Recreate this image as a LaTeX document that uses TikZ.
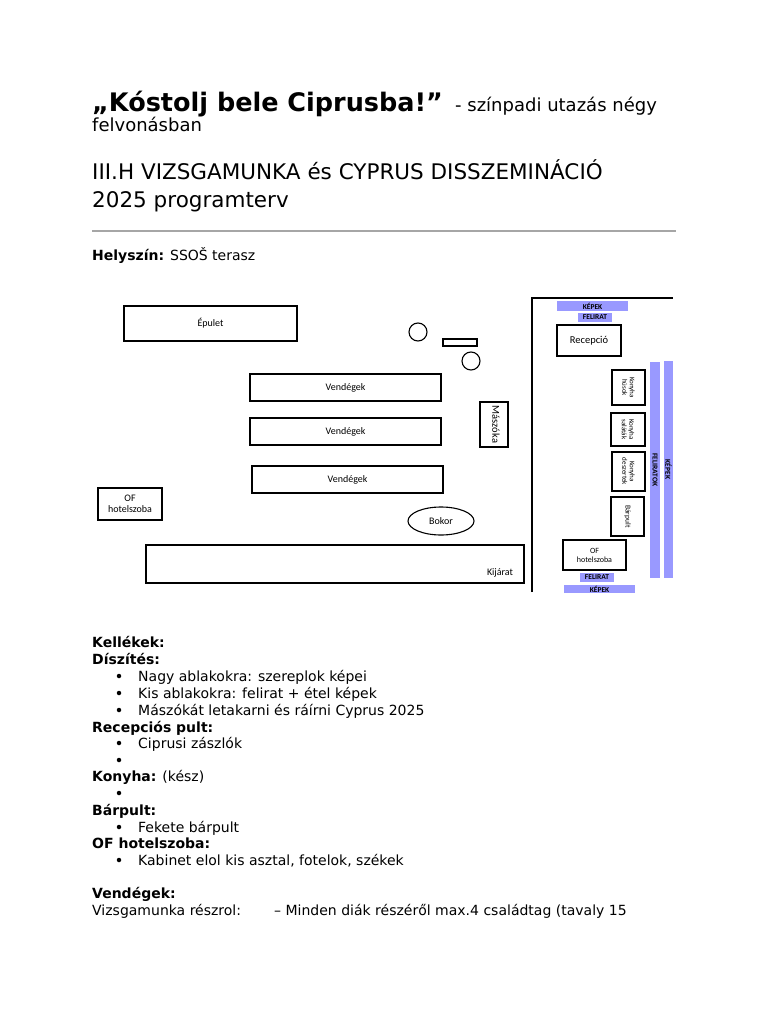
\documentclass[tikz,border=0pt]{standalone}
\usepackage{fontspec}
\usetikzlibrary{shapes.geometric}
\setmainfont{DejaVu Sans}
\newfontfamily\plan{Carlito}
\begin{document}
\begin{tikzpicture}[x=1pt,y=-1pt,
  txt/.style={anchor=base west,inner sep=0pt,font=\fontsize{14}{16}\selectfont},
  big/.style={anchor=base west,inner sep=0pt,font=\fontsize{21.5}{24}\selectfont},
  box/.style={draw,line width=1.1pt,inner sep=0pt,font=\plan\fontsize{10}{11}\selectfont,align=center},
  blue/.style={fill=blue!40!white,draw=none,inner sep=0pt,font=\plan\bfseries\fontsize{7.5}{8}\selectfont},
  bul/.style={circle,fill,inner sep=0pt,minimum size=4.5pt}]
\useasboundingbox (0,0) rectangle (768,1024);
\fill[white] (0,0) rectangle (768,1024);
% title
\node[big,font=\bfseries\fontsize{25.5}{28}\selectfont] (t1) at (92,112) {„Kóstolj bele Ciprusba!”};
\node[txt,font=\fontsize{18}{20}\selectfont] (t1b) at (455,112) {- színpadi utazás négy};
\node[txt,font=\fontsize{18}{20}\selectfont] (t1c) at (92,132) {felvonásban};
\node[big] (t2) at (92,180) {III.H VIZSGAMUNKA és CYPRUS DISSZEMINÁCIÓ};
\node[big] (t3) at (92,208) {2025 programterv};
\draw[gray!70,line width=1.2pt] (92,231) -- (676,231);
\node[txt] (hely) at (92,260) {\textbf{Helyszín:} SSOŠ terasz};
% plan left
\node[box,minimum width=173pt,minimum height=35pt] (ep) at (210.5,323.5) {Épulet};
\node[draw,line width=1.1pt,circle,minimum size=18pt,inner sep=0pt] (c1) at (418,332) {};
\node[draw,line width=1.1pt,minimum width=34pt,minimum height=7pt,inner sep=0pt] (r1) at (460,342.5) {};
\node[draw,line width=1.1pt,circle,minimum size=18pt,inner sep=0pt] (c2) at (471,361) {};
\node[box,minimum width=191pt,minimum height=27pt] (v1) at (345.5,387.5) {Vendégek};
\node[box,minimum width=191pt,minimum height=27pt] (v2) at (345.5,431.5) {Vendégek};
\node[box,minimum width=191pt,minimum height=27pt] (v3) at (347.5,479.5) {Vendégek};
\node[box,minimum width=28pt,minimum height=45pt] (masz) at (494,424.5) {};
\node[font=\plan\fontsize{10.5}{11}\selectfont,rotate=-90,inner sep=0pt] (maszt) at (496,424.5) {Mászóka};
\node[box,minimum width=64pt,minimum height=32pt] (of1) at (130,504) {OF\\hotelszoba};
\node[draw,line width=1.1pt,ellipse,minimum width=66pt,minimum height=28pt,inner sep=0pt,font=\plan\fontsize{10}{11}\selectfont] (bok) at (441,521) {Bokor};
\node[box,minimum width=378pt,minimum height=38pt] (kij) at (335,564) {};
\node[font=\plan\fontsize{10}{11}\selectfont,inner sep=0pt] (kijt) at (500,573) {Kijárat};
% plan right
\draw[line width=1.1pt] (532,592) -- (532,298) -- (673,298);
\node[blue,minimum width=71pt,minimum height=10pt] (kp1) at (592.5,306) {KÉPEK};
\node[blue,minimum width=34pt,minimum height=9pt] (fe1) at (595,317.5) {FELIRAT};
\node[box,minimum width=64pt,minimum height=31pt,font=\plan\fontsize{10.5}{11}\selectfont] (rec) at (589,340.5) {Recepció};
\node[box,minimum width=33pt,minimum height=35pt] (k1) at (628.5,387.5) {};
\node[font=\plan\fontsize{7}{7.5}\selectfont,rotate=-90,align=center,inner sep=0pt] (k1t) at (628.5,387.5) {Konyha\\húsok};
\node[box,minimum width=34pt,minimum height=33pt] (k2) at (628,429.5) {};
\node[font=\plan\fontsize{7}{7.5}\selectfont,rotate=-90,align=center,inner sep=0pt] (k2t) at (628,429.5) {Konyha\\saláták};
\node[box,minimum width=33pt,minimum height=39pt] (k3) at (628.5,471.5) {};
\node[font=\plan\fontsize{7}{7.5}\selectfont,rotate=-90,align=center,inner sep=0pt] (k3t) at (628.5,471.5) {Konyha\\deszertek};
\node[box,minimum width=33pt,minimum height=39pt] (bp) at (627.5,516.5) {};
\node[font=\plan\fontsize{7.5}{8}\selectfont,rotate=-90,inner sep=0pt] (bpt) at (627.5,516.5) {Bárpult};
\node[box,minimum width=63pt,minimum height=30pt,font=\plan\fontsize{8}{9}\selectfont] (of2) at (594.5,555) {OF\\hotelszoba};
\node[blue,minimum width=34pt,minimum height=9pt] (fe2) at (597,577.5) {FELIRAT};
\node[blue,minimum width=71pt,minimum height=8pt] (kp2) at (599.5,589) {KÉPEK};
\node[blue,minimum width=10pt,minimum height=216pt] (fe3) at (655,470) {};
\node[blue,rotate=-90] (fe3t) at (655,470) {FELIRATOK};
\node[blue,minimum width=9pt,minimum height=217pt] (kp3) at (668.5,469.5) {};
\node[blue,rotate=-90] (kp3t) at (668.5,469.5) {KÉPEK};
% lists
\node[txt] (l1) at (92,647) {\textbf{Kellékek:}};
\node[txt] (l2) at (92,664) {\textbf{Díszítés:}};
\node[bul] (b1) at (119,676) {}; \node[txt] (l3) at (138,681) {Nagy ablakokra: szereplok képei};
\node[bul] (b2) at (119,693) {}; \node[txt] (l4) at (138,698) {Kis ablakokra: felirat + étel képek};
\node[bul] (b3) at (119,710) {}; \node[txt] (l5) at (138,715) {Mászókát letakarni és ráírni Cyprus 2025};
\node[txt] (l6) at (92,732) {\textbf{Recepciós pult:}};
\node[bul] (b4) at (119,743) {}; \node[txt] (l7) at (138,748) {Ciprusi zászlók};
\node[bul] (b5) at (119,760) {};
\node[txt] (l8) at (92,781) {\textbf{Konyha:} (kész)};
\node[bul] (b6) at (119,793) {};
\node[txt] (l9) at (92,815) {\textbf{Bárpult:}};
\node[bul] (b7) at (119,827) {}; \node[txt] (l10) at (138,832) {Fekete bárpult};
\node[txt] (l11) at (92,848) {\textbf{OF hotelszoba:}};
\node[bul] (b8) at (119,860) {}; \node[txt] (l12) at (138,865) {Kabinet elol kis asztal, fotelok, székek};
\node[txt] (l13) at (92,898) {\textbf{Vendégek:}};
\node[txt] (l14) at (92,915) {Vizsgamunka részrol:};
\node[txt] (l15) at (274,915) {– Minden diák részéről max.4 családtag (tavaly 15};
\end{tikzpicture}
\end{document}
